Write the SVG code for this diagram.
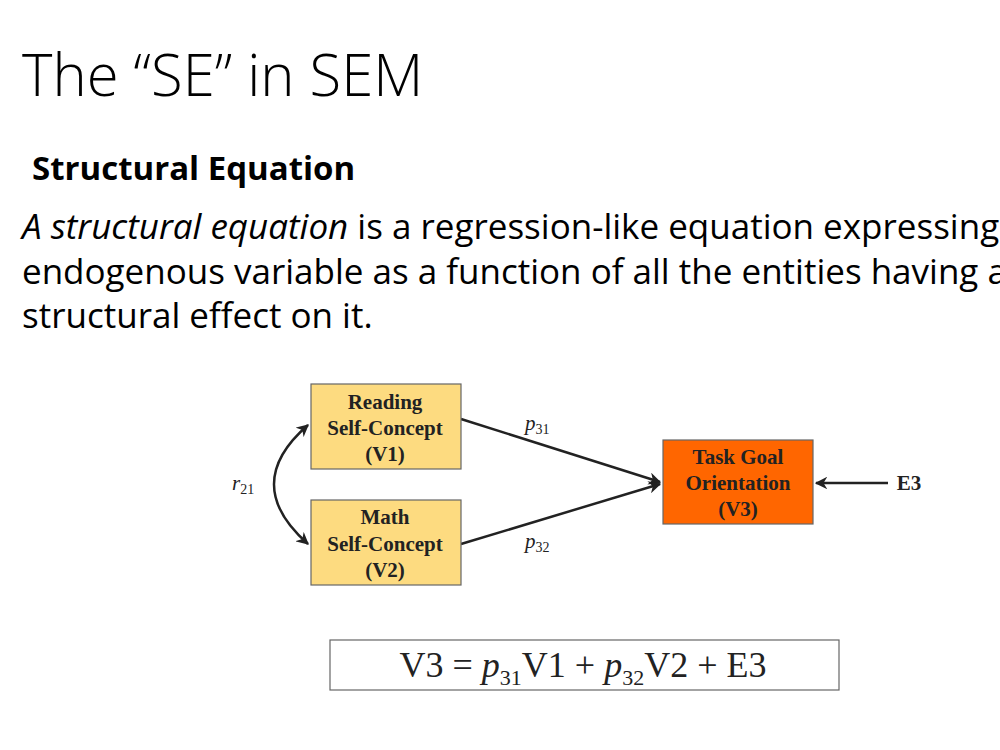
<svg xmlns="http://www.w3.org/2000/svg" width="1000" height="750" viewBox="0 0 1000 750">
<style>
.t{font-family:"Open Sans","Liberation Sans",sans-serif;fill:#000}
.n{font-family:"Liberation Serif",serif;font-weight:bold;font-size:21px;text-anchor:middle;fill:#222}
.box{stroke:#666;stroke-width:1.2}
.c{stroke:#222;stroke-width:2.5;fill:none}
.lab{font-family:"Liberation Serif",serif;font-style:italic;font-size:21px;fill:#222}
.sub{font-style:normal;font-size:14px}
</style>
<defs>
<marker id="ah" viewBox="0 0 10 10" refX="9" refY="5" markerWidth="5" markerHeight="5" orient="auto-start-reverse"><path d="M0,0L10,5L0,10L3,5z" fill="#222"/></marker>
</defs>
<rect width="1000" height="750" fill="#fff"/>
<text class="t" x="22" y="96" font-size="58" font-weight="300">The “SE” in SEM</text>
<text class="t" x="32" y="180" font-size="33" font-weight="bold">Structural Equation</text>
<text class="t" x="22" y="239" font-size="35"><tspan font-style="italic">A structural equation</tspan> is a regression-like equation expressing an</text>
<text class="t" x="22" y="284" font-size="35">endogenous variable as a function of all the entities having a</text>
<text class="t" x="22" y="328" font-size="35">structural effect on it.</text>
<g id="connectors">
<path class="c" d="M461,419 L660,482" marker-end="url(#ah)"/>
<path class="c" d="M461,544 L660,484" marker-end="url(#ah)"/>
<path class="c" d="M888,483 L816,483" marker-end="url(#ah)"/>
<path class="c" d="M308,425 Q240,484 308,544" marker-start="url(#ah)" marker-end="url(#ah)"/>
<text class="lab" x="525" y="430">p<tspan class="sub" dy="4">31</tspan></text>
<text class="lab" x="525" y="548">p<tspan class="sub" dy="4">32</tspan></text>
<text class="lab" x="232" y="490">r<tspan class="sub" dy="4">21</tspan></text>
</g>
<g id="v1"><rect class="box" x="311" y="384" width="150" height="85" fill="#fddb80"/>
<text class="n" x="385" y="409">Reading</text><text class="n" x="385" y="435">Self-Concept</text><text class="n" x="385" y="461">(V1)</text></g>
<g id="v2"><rect class="box" x="311" y="500" width="150" height="85" fill="#fddb80"/>
<text class="n" x="385" y="524">Math</text><text class="n" x="385" y="551">Self-Concept</text><text class="n" x="385" y="577">(V2)</text></g>
<g id="v3"><rect class="box" x="663" y="440" width="150" height="84" fill="#ff6600"/>
<text class="n" x="738" y="464">Task Goal</text><text class="n" x="738" y="490">Orientation</text><text class="n" x="738" y="516">(V3)</text></g>
<g id="e3"><text class="n" x="909" y="490">E3</text></g>
<g id="eq"><rect x="330" y="640" width="509" height="50" fill="#fff" stroke="#666" stroke-width="1.2"/>
<text x="583" y="677" text-anchor="middle" font-family="Liberation Serif,serif" font-size="36" fill="#222">V3 = <tspan font-style="italic">p</tspan><tspan font-size="22" dy="8">31</tspan><tspan dy="-8">V1 + </tspan><tspan font-style="italic">p</tspan><tspan font-size="22" dy="8">32</tspan><tspan dy="-8">V2 + E3</tspan></text></g>
</svg>
